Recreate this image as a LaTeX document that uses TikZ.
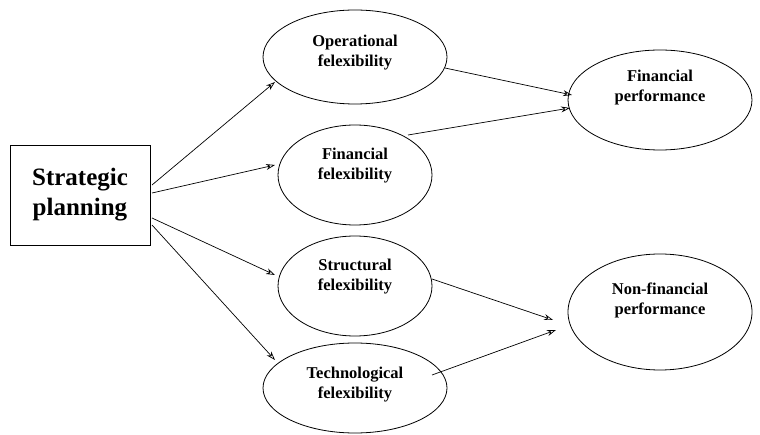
\documentclass[tikz,border=0pt]{standalone}
\usepackage{fontspec}
\setmainfont{Liberation Serif}
\usetikzlibrary{arrows.meta}
\begin{document}
\begin{tikzpicture}[x=1pt,y=-1pt,
  lb/.style={align=center,font=\bfseries\fontsize{16.5}{20}\selectfont},
  ar/.style={-{Stealth[length=9pt,width=6pt,open]},line width=0.7pt}]
\useasboundingbox (0,0) rectangle (760,435);
\node[draw,line width=0.8pt,minimum width=140pt,minimum height=100pt,align=center,font=\bfseries\fontsize{25}{30}\selectfont] (sp) at (80,195) {Strategic\\planning};
\draw[line width=0.8pt] (355,57) ellipse (92 and 47);
\node[lb] (of) at (355,53) {Operational\\felexibility};
\draw[line width=0.8pt] (355,175) ellipse (77 and 50);
\node[lb] (ff) at (355,166) {Financial\\felexibility};
\draw[line width=0.8pt] (355,286) ellipse (77 and 50);
\node[lb] (sf) at (355,277) {Structural\\felexibility};
\draw[line width=0.8pt] (355,388) ellipse (92 and 45);
\node[lb] (tf) at (355,385) {Technological\\felexibility};
\draw[line width=0.8pt] (660,100) ellipse (92 and 50);
\node[lb] (fp) at (660,88) {Financial\\performance};
\draw[line width=0.8pt] (660,312) ellipse (92 and 58);
\node[lb] (np) at (660,300) {Non-financial\\performance};
\coordinate (s1) at (152,185); \coordinate (s2) at (152,193);
\coordinate (s3) at (152,218); \coordinate (s4) at (152,225);
\coordinate (a1) at (275,82); \coordinate (a2) at (275,165);
\coordinate (a3) at (275,275); \coordinate (a4) at (275,360);
\draw[ar] (s1) -- (a1);
\draw[ar] (s2) -- (a2);
\draw[ar] (s3) -- (a3);
\draw[ar] (s4) -- (a4);
\coordinate (o1) at (445,68); \coordinate (f1) at (572,95);
\coordinate (o2) at (408,135); \coordinate (f2) at (570,108);
\coordinate (o3) at (432,279); \coordinate (f3) at (553,320);
\coordinate (o4) at (432,375); \coordinate (f4) at (556,330);
\draw[ar] (o1) -- (f1);
\draw[ar] (o2) -- (f2);
\draw[ar] (o3) -- (f3);
\draw[ar] (o4) -- (f4);
\end{tikzpicture}
\end{document}
